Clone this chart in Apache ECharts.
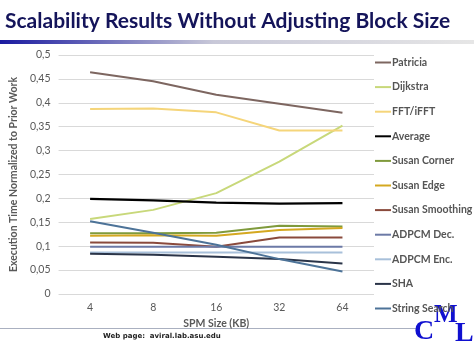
<!DOCTYPE html>
<html><head><meta charset="utf-8">
<script src="https://cdn.jsdelivr.net/npm/echarts@6/dist/echarts.min.js"></script>
<style>html,body{margin:0;padding:0;background:#fff}#c{width:474px;height:355px}</style>
</head><body><div id="c"></div>
<script>
const categories = ['4','8','16','32','64'];
const seriesNames = ['Patricia','Dijkstra','FFT/iFFT','Average','Susan Corner','Susan Edge','Susan Smoothing','ADPCM Dec.','ADPCM Enc.','SHA','String Search'];
const patricia = [0.464,0.445,0.417,0.398,0.379];
const dijkstra = [0.157,0.176,0.211,0.277,0.352];
const fft = [0.387,0.388,0.380,0.342,0.342];
const average = [0.199,0.196,0.191,0.189,0.190];
const susanCorner = [0.127,0.127,0.128,0.143,0.141];
const susanEdge = [0.122,0.123,0.122,0.134,0.138];
const susanSmoothing = [0.108,0.107,0.099,0.118,0.118];
const adpcmDec = [0.099,0.099,0.099,0.099,0.099];
const adpcmEnc = [0.087,0.087,0.087,0.087,0.087];
const sha = [0.084,0.082,0.078,0.073,0.064];
const stringSearch = [0.152,0.128,0.103,0.073,0.047];
const yTicks = ['0','0,05','0,1','0,15','0,2','0,25','0,3','0,35','0,4','0,45','0,5'];
const allData = [patricia,dijkstra,fft,average,susanCorner,susanEdge,susanSmoothing,adpcmDec,adpcmEnc,sha,stringSearch];
const colors = ['#7d6660','#c8d87a','#f5d57a','#000000','#7f9a3c','#d4a820','#8a4a3c','#6c7aa6','#a8c0da','#2a3448','#4d7398'];

const chart = echarts.init(document.getElementById('c'));
chart.setOption({
  animation:false,
  color: colors,
  grid:{left:45,right:100,top:55,bottom:61},
  legend:{
    orient:'vertical', left:370, top:52, itemGap:13.6, itemWidth:16, itemHeight:14,
    icon:'path://M0,6L16,6L16,8L0,8Z',
    textStyle:{fontFamily:'Lato',fontWeight:'bold',fontSize:10.5,color:'#555555',padding:[0,0,0,-4]},
    data: seriesNames
  },
  xAxis:{
    type:'category', data:categories, boundaryGap:true,
    axisLine:{show:false}, axisTick:{show:false},
    axisLabel:{fontFamily:'Lato',fontSize:10.5,color:'#595959',margin:8},
    name:'SPM Size (KB)', nameLocation:'middle', nameGap:24,
    nameTextStyle:{fontFamily:'Lato',fontWeight:'bold',fontSize:10.5,color:'#595959'}
  },
  yAxis:{
    type:'value', min:0, max:0.5, interval:0.05,
    axisLine:{show:false}, axisTick:{show:false},
    splitLine:{lineStyle:{color:'#d9d9d9',width:1}},
    axisLabel:{fontFamily:'Lato',fontSize:10.5,color:'#595959',margin:8,
      formatter:(v)=>yTicks[Math.round(v/0.05)]},
    name:'Execution Time Normalized to Prior Work', nameLocation:'middle', nameGap:31,
    nameTextStyle:{fontFamily:'Lato',fontWeight:'bold',fontSize:10.5,color:'#595959'}
  },
  series: seriesNames.map((n,i)=>({
    name:n, type:'line', data:allData[i], symbol:'none', smooth:false,
    lineStyle:{width: i===3?2.2:2, color:colors[i]}
  })),
  graphic:[
    {type:'text', left:5, top:11, style:{text:'Scalability Results Without Adjusting Block Size',
      font:'bold 21px "Lato"', fill:'#14145a'}},
    {type:'rect', shape:{x:0,y:40,width:474,height:4},
      style:{fill:new echarts.graphic.LinearGradient(0,0,1,0,[{offset:0,color:'#1a1aa0'},{offset:0.45,color:'#c8c8d8'},{offset:1,color:'#e6e6e6'}])}},
    {type:'rect', shape:{x:0,y:328,width:420,height:1}, style:{fill:'#aab0c0'}},
    {type:'text', left:103, top:333, style:{text:'Web page:  aviral.lab.asu.edu', font:'bold 7px "DejaVu Sans"', fill:'#222'}},
    {type:'text', left:414, top:318, style:{text:'C', font:'bold 28px "Liberation Serif"', fill:'#1010d0'}},
    {type:'text', left:434, top:303, style:{text:'M', font:'bold 25px "Liberation Serif"', fill:'#1010d0'}},
    {type:'text', left:455, top:320, style:{text:'L', font:'bold 28px "Liberation Serif"', fill:'#1010d0'}}
  ]
});
</script></body></html>
